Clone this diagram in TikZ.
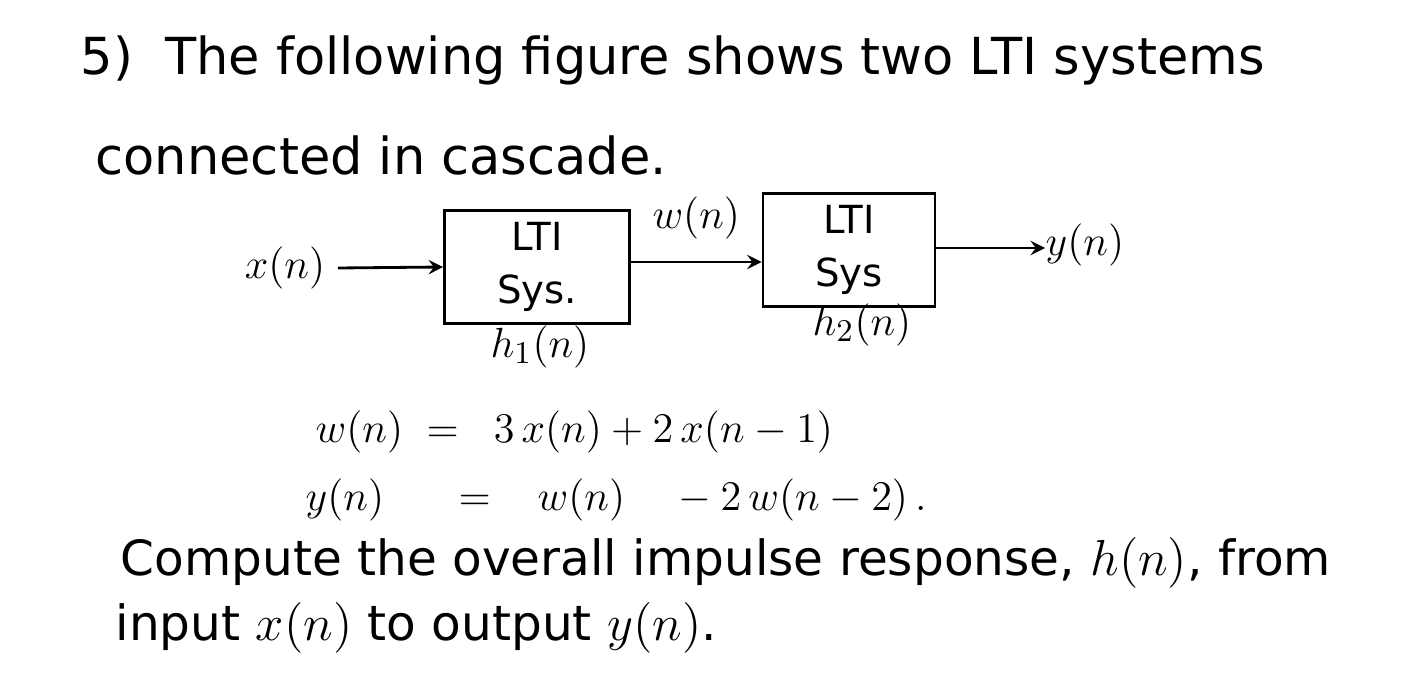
\documentclass[tikz,border=0pt]{standalone}
\usepackage{fontspec}
\setmainfont{DejaVu Sans}
\begin{document}
\begin{tikzpicture}[x=0.01cm,y=-0.01cm,
  txt/.style={font=\fontsize{14.5}{17}\selectfont, inner sep=0pt},
  txtb/.style={font=\fontsize{13.8}{17}\selectfont, inner sep=0pt},
  mtxt/.style={font=\fontsize{12.5}{15}\selectfont, inner sep=0pt},
  blk/.style={draw, thick, align=center, font=\fontsize{11}{15}\selectfont},
  arr/.style={->, thick, >=stealth}]
\useasboundingbox (0,0) rectangle (1414,682);
\node[txt, anchor=west] (l1) at (80,60) {5)\ \ The following figure shows two LTI systems};
\node[txt, anchor=west] (l2) at (95,155) {connected in cascade.};
\node[mtxt] (x) at (285,268) {$x(n)$};
\node[blk, minimum width=1.85cm, minimum height=0.85cm] (b1) at (537,267) {LTI\\Sys.};
\node[blk, minimum width=1.72cm, minimum height=0.9cm] (b2) at (849,250) {LTI\\Sys};
\node[mtxt] (h1) at (540,347) {$h_1(n)$};
\node[mtxt] (h2) at (862,325) {$h_2(n)$};
\node[mtxt, anchor=west] (y) at (1045,245) {$y(n)$};
\coordinate (b1r) at (b1.east |- 0,262);
\coordinate (b2l) at (b2.west |- 0,262);
\coordinate (b2r) at (b2.east |- 0,248);
\draw[arr] (x.east) ++(12,0) -- (b1.west);
\draw[arr] (b1r) -- node[mtxt, above=6pt] (w) {$w(n)$} (b2l);
\draw[arr] (b2r) -- (b2r -| y.west);
\node[mtxt, anchor=west] (e1) at (315,432) {$w(n) \;=\;\; 3\,x(n) + 2\,x(n-1)$};
\node[mtxt, anchor=west] (e2) at (305,500) {$y(n) \quad\;\, = \;\;\; w(n) \quad - 2\,w(n-2)\,.$};
\node[txtb, anchor=west] (l3) at (120,563) {Compute the overall impulse response, $h(n)$, from};
\node[txtb, anchor=west] (l4) at (115,628) {input $x(n)$ to output $y(n)$.};
\end{tikzpicture}
\end{document}
